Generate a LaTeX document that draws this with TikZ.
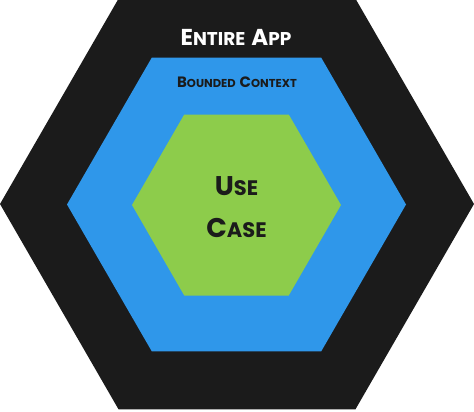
\documentclass[tikz,border=0pt]{standalone}
\usepackage{fontspec}
\setmainfont{Poppins}
\usetikzlibrary{shapes.geometric}

\definecolor{appblack}{HTML}{1B1B1B}
\definecolor{ctxblue}{HTML}{2F97EA}
\definecolor{casegreen}{HTML}{8DCC4B}

% big first letter, smaller capitals after it
\newcommand{\capsword}[4]{{\fontsize{#1}{#1}\selectfont #3}{\fontsize{#2}{#2}\selectfont #4}}

\tikzset{
  hexcell/.style={regular polygon,regular polygon sides=6,inner sep=0pt,outer sep=0pt},
  hexlabel/.style={font=\bfseries,inner sep=0pt,anchor=base}
}

\begin{document}
\begin{tikzpicture}[x=1pt,y=-1pt]
  \useasboundingbox[fill=white] (0,0) rectangle (474,412);
  \node[hexcell,fill=appblack,minimum size=474pt] (app) at (237,204) {};
  \node[hexcell,fill=ctxblue,minimum size=339pt] (context) at (236.5,204.5) {};
  \node[hexcell,fill=casegreen,minimum size=209pt] (usecase) at (236.5,205) {};

  \node[hexlabel,text=white] (applabel) at (236,46)
    {\capsword{23}{18.5}{E}{NTIRE}\hspace{6pt}\capsword{23}{18.5}{A}{PP}};
  \node[hexlabel,text=appblack] (contextlabel) at (237,88)
    {\capsword{15}{11.5}{B}{OUNDED}\hspace{4pt}\capsword{15}{11.5}{C}{ONTEXT}};
  \node[hexlabel,text=appblack] (uselabel) at (236.5,195)
    {\capsword{27}{21}{U}{SE}};
  \node[hexlabel,text=appblack] (caselabel) at (236.5,237)
    {\capsword{27}{21}{C}{ASE}};
\end{tikzpicture}
\end{document}
